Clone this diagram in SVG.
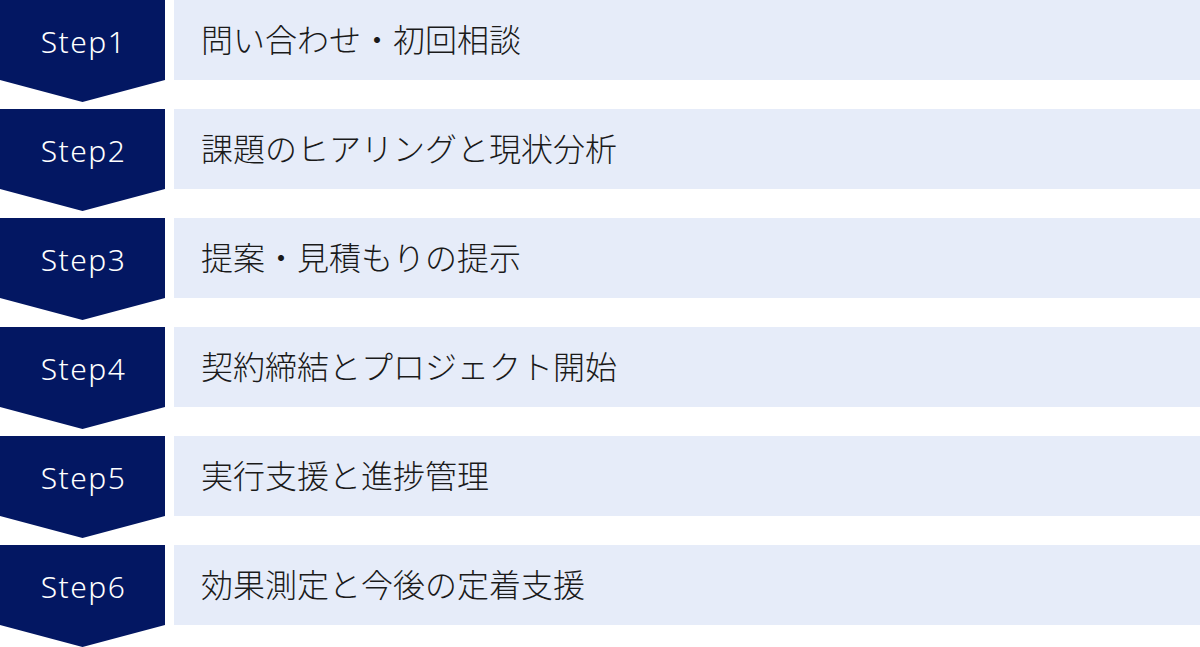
<svg xmlns="http://www.w3.org/2000/svg" width="1200" height="647" viewBox="0 0 1200 647">
<style>
.badge{fill:#031762}
.bar{fill:#E6ECF9}
.step{font-family:"Noto Sans","Noto Sans CJK JP",sans-serif;font-size:30px;font-weight:300;fill:#fff;text-anchor:middle;letter-spacing:1.5px}
.lbl{font-family:"Noto Sans CJK JP","Noto Sans",sans-serif;font-size:32px;font-weight:300;fill:#1a1a1a}
</style>
<defs>
<path id="chev" d="M0 0H165V80L82.5 102L0 80Z"/>
</defs>
<rect width="1200" height="647" fill="#fff"/>
<g id="step1" transform="translate(0 0)">
<use href="#chev" class="badge"/><rect class="bar" x="174" y="0" width="1026" height="80"/>
<text class="step" x="83.5" y="52.5">Step1</text><text class="lbl" x="201" y="52">問い合わせ・初回相談</text>
</g>
<g id="step2" transform="translate(0 109)">
<use href="#chev" class="badge"/><rect class="bar" x="174" y="0" width="1026" height="80"/>
<text class="step" x="83.5" y="52.5">Step2</text><text class="lbl" x="201" y="52">課題のヒアリングと現状分析</text>
</g>
<g id="step3" transform="translate(0 218)">
<use href="#chev" class="badge"/><rect class="bar" x="174" y="0" width="1026" height="80"/>
<text class="step" x="83.5" y="52.5">Step3</text><text class="lbl" x="201" y="52">提案・見積もりの提示</text>
</g>
<g id="step4" transform="translate(0 327)">
<use href="#chev" class="badge"/><rect class="bar" x="174" y="0" width="1026" height="80"/>
<text class="step" x="83.5" y="52.5">Step4</text><text class="lbl" x="201" y="52">契約締結とプロジェクト開始</text>
</g>
<g id="step5" transform="translate(0 436)">
<use href="#chev" class="badge"/><rect class="bar" x="174" y="0" width="1026" height="80"/>
<text class="step" x="83.5" y="52.5">Step5</text><text class="lbl" x="201" y="52">実行支援と進捗管理</text>
</g>
<g id="step6" transform="translate(0 545)">
<use href="#chev" class="badge"/><rect class="bar" x="174" y="0" width="1026" height="80"/>
<text class="step" x="83.5" y="52.5">Step6</text><text class="lbl" x="201" y="52">効果測定と今後の定着支援</text>
</g>
<g id="connectors"/>
</svg>
